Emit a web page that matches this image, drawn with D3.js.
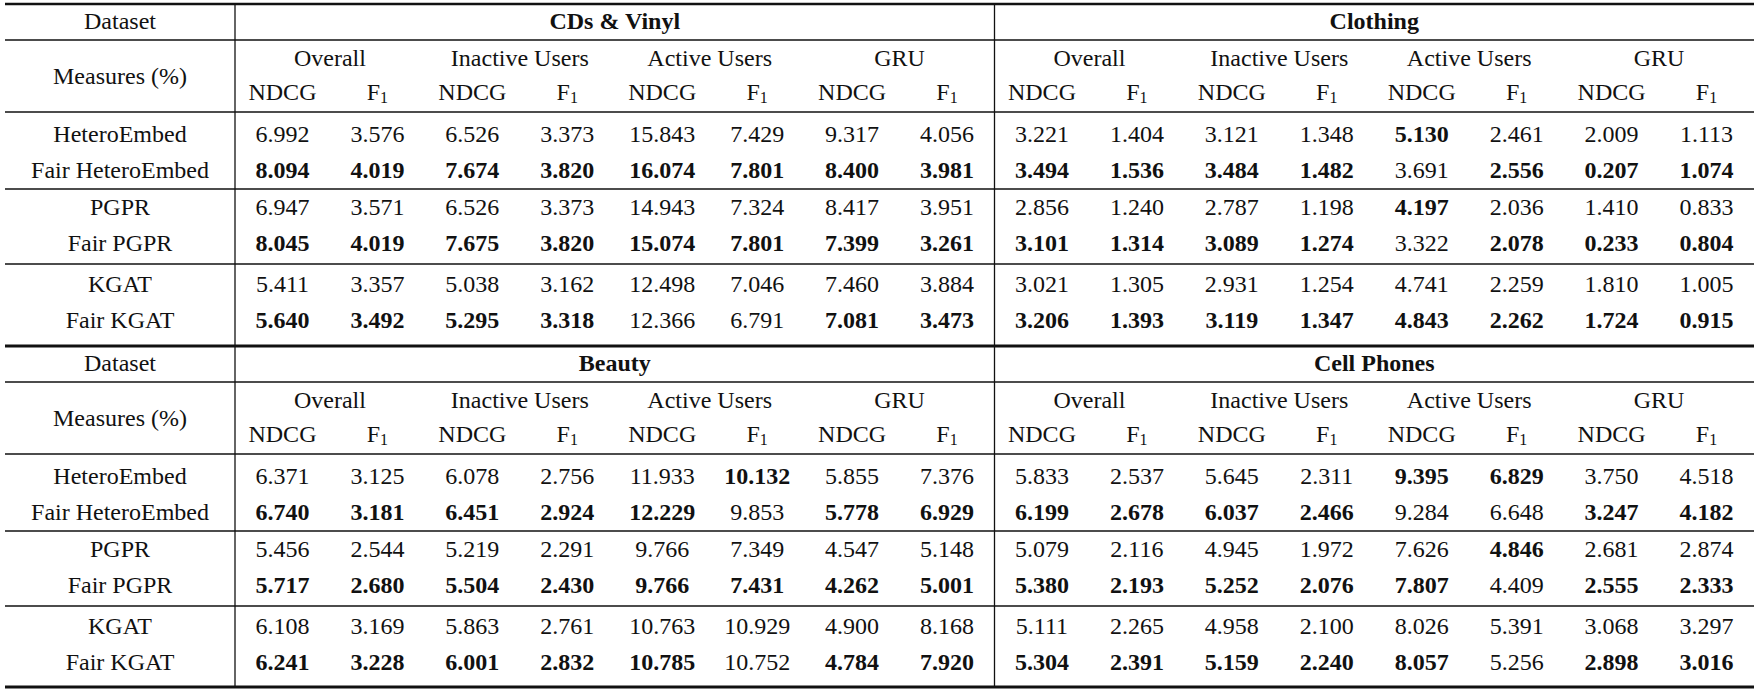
<!DOCTYPE html>
<html><head><meta charset="utf-8">
<script src="https://cdn.jsdelivr.net/npm/d3@7"></script>
<style>body{margin:0;background:#fff}</style>
</head><body><svg width="1758" height="693"></svg>
<script>
// table content; "*" marks a bold cell
const blocks = [
  { datasets: ["CDs & Vinyl", "Clothing"], rows: [
    ["6.992","3.576","6.526","3.373","15.843","7.429","9.317","4.056","3.221","1.404","3.121","1.348","*5.130","2.461","2.009","1.113"],
    ["*8.094","*4.019","*7.674","*3.820","*16.074","*7.801","*8.400","*3.981","*3.494","*1.536","*3.484","*1.482","3.691","*2.556","*0.207","*1.074"],
    ["6.947","3.571","6.526","3.373","14.943","7.324","8.417","3.951","2.856","1.240","2.787","1.198","*4.197","2.036","1.410","0.833"],
    ["*8.045","*4.019","*7.675","*3.820","*15.074","*7.801","*7.399","*3.261","*3.101","*1.314","*3.089","*1.274","3.322","*2.078","*0.233","*0.804"],
    ["5.411","3.357","5.038","3.162","12.498","7.046","7.460","3.884","3.021","1.305","2.931","1.254","4.741","2.259","1.810","1.005"],
    ["*5.640","*3.492","*5.295","*3.318","12.366","6.791","*7.081","*3.473","*3.206","*1.393","*3.119","*1.347","*4.843","*2.262","*1.724","*0.915"]
  ]},
  { datasets: ["Beauty", "Cell Phones"], rows: [
    ["6.371","3.125","6.078","2.756","11.933","*10.132","5.855","7.376","5.833","2.537","5.645","2.311","*9.395","*6.829","3.750","4.518"],
    ["*6.740","*3.181","*6.451","*2.924","*12.229","9.853","*5.778","*6.929","*6.199","*2.678","*6.037","*2.466","9.284","6.648","*3.247","*4.182"],
    ["5.456","2.544","5.219","2.291","9.766","7.349","4.547","5.148","5.079","2.116","4.945","1.972","7.626","*4.846","2.681","2.874"],
    ["*5.717","*2.680","*5.504","*2.430","*9.766","*7.431","*4.262","*5.001","*5.380","*2.193","*5.252","*2.076","*7.807","4.409","*2.555","*2.333"],
    ["6.108","3.169","5.863","2.761","10.763","10.929","4.900","8.168","5.111","2.265","4.958","2.100","8.026","5.391","3.068","3.297"],
    ["*6.241","*3.228","*6.001","*2.832","*10.785","10.752","*4.784","*7.920","*5.304","*2.391","*5.159","*2.240","*8.057","5.256","*2.898","*3.016"]
  ]}
];
const methods = ["HeteroEmbed", "Fair HeteroEmbed", "PGPR", "Fair PGPR", "KGAT", "Fair KGAT"];
const groups = ["Overall", "Inactive Users", "Active Users", "GRU"];
const measures = ["NDCG", "F"];

const svg = d3.select("svg");
const L = 5, D1 = 235, R = 1754, blockH = 342;
const x = d3.scaleLinear().domain([0, 16]).range([D1, R]);
const FS = 24;
const FONT = "Liberation Serif, DejaVu Serif, serif";
const rowY = [131, 167, 204, 240, 281, 317];

function line(g, x1, x2, y, w) {
  g.append("line").attr("x1", x1).attr("x2", x2).attr("y1", y).attr("y2", y)
    .attr("stroke", "#111").attr("stroke-width", w);
}
function txt(g, tx, ty, s, bold) {
  return g.append("text").attr("x", tx).attr("y", ty).attr("text-anchor", "middle")
    .attr("dominant-baseline", "central").attr("font-size", FS)
    .attr("font-family", FONT).attr("fill", "#111")
    .attr("font-weight", bold ? "bold" : "normal").text(s);
}

blocks.forEach((b, bi) => {
  const g = svg.append("g").attr("transform", `translate(0,${3 + bi * blockH})`);
  line(g, L, R, 1, bi === 0 ? 2.5 : 3);
  line(g, L, R, 37, 1.3);
  line(g, L, R, 109, 1.3);
  line(g, L, R, 186, 1.3);
  line(g, L, R, 261, 1.3);
  if (bi === 1) line(g, L, R, 342, 3);
  [D1, x(8)].forEach(vx => g.append("line").attr("x1", vx).attr("x2", vx)
    .attr("y1", 1).attr("y2", bi === 0 ? blockH : blockH - 1).attr("stroke", "#111").attr("stroke-width", 1.3));

  txt(g, (L + D1) / 2, 18, "Dataset");
  txt(g, (L + D1) / 2, 73, "Measures (%)");
  b.datasets.forEach((d, di) => txt(g, x(di * 8 + 4), 18, d, true));
  d3.range(8).forEach(k => {
    txt(g, x(k * 2 + 1), 55, groups[k % 4]);
    d3.range(2).forEach(m => {
      const c = k * 2 + m, t = txt(g, x(c + 0.5), 89, measures[m]);
      if (m === 1) t.append("tspan").attr("font-size", 16).attr("dy", 5).text("1");
    });
  });
  b.rows.forEach((r, ri) => {
    txt(g, (L + D1) / 2, rowY[ri], methods[ri]);
    r.forEach((v, c) => txt(g, x(c + 0.5), rowY[ri], v.replace("*", ""), v.startsWith("*")));
  });
});
</script></body></html>
